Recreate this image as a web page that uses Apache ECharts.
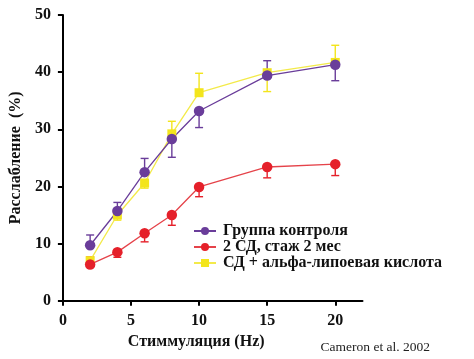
<!DOCTYPE html>
<html><head><meta charset="utf-8">
<script src="https://cdn.jsdelivr.net/npm/echarts@6/dist/echarts.min.js"></script>
<style>html,body{margin:0;padding:0;background:#fff}#c{width:474px;height:359px}</style>
</head><body><div id="c"></div>
<script>
const freq = [2, 4, 6, 8, 10, 15, 20];
const seriesNames = ['Группа контроля', '2 СД, стаж 2 мес', 'СД + альфа-липоевая кислота'];
const control = [9.7, 15.7, 22.5, 28.3, 33.2, 39.4, 41.3];
const controlErrUp = [1.8, 1.5, 2.4, 0, 0, 2.6, 0];
const controlErrDown = [0, 0, 0, 3.2, 2.9, 0, 2.8];
const diabetes = [6.35, 8.5, 11.8, 15.0, 19.9, 23.4, 23.9];
const diabetesErrUp = [1.3, 0, 0, 0, 0, 0, 0];
const diabetesErrDown = [0, 0.9, 1.5, 1.8, 1.7, 1.9, 2.0];
const lipoic = [7.0, 15.0, 20.6, 29.2, 36.4, 39.9, 41.7];
const lipoicErrUp = [0, 0, 0, 2.2, 3.4, 0, 3.0];
const lipoicErrDown = [0.6, 0.9, 0.9, 0, 0, 3.3, 0];
const xTicks = [0, 5, 10, 15, 20];
const yTicks = [0, 10, 20, 30, 40, 50];
const colors = ['#6a3d9a', '#e5202a', '#f3e51c'];
const lineColors = ['#6a3d9a', '#e5434a', '#f3ea4a'];

const serif = 'Liberation Serif';
const chart = echarts.init(document.getElementById('c'));

function errData(vals, up, down) {
  return freq.map((x, i) => [x, vals[i], vals[i] - down[i], vals[i] + up[i]]);
}
function errSeries(vals, up, down, color) {
  return {
    type: 'custom', silent: true, z: 1,
    data: errData(vals, up, down),
    renderItem: function (params, api) {
      const x = api.value(0), y = api.value(1), lo = api.value(2), hi = api.value(3);
      const c = api.coord([x, y]);
      const children = [];
      const hw = 4;
      [lo, hi].forEach(v => {
        if (v === y) return;
        const p = api.coord([x, v]);
        children.push({ type: 'line', shape: { x1: c[0], y1: c[1], x2: p[0], y2: p[1] }, style: { stroke: color, lineWidth: 1.4 } });
        children.push({ type: 'line', shape: { x1: p[0] - hw, y1: p[1], x2: p[0] + hw, y2: p[1] }, style: { stroke: color, lineWidth: 1.4 } });
      });
      return { type: 'group', children: children };
    }
  };
}
function lineSeries(name, vals, i, symbol, size) {
  return {
    name: name, type: 'line', z: 3,
    data: freq.map((x, k) => [x, vals[k]]),
    symbol: symbol, symbolSize: size, showSymbol: true,
    lineStyle: { color: lineColors[i], width: 1.3 },
    itemStyle: { color: colors[i], borderWidth: 0 },
    emphasis: { disabled: true }
  };
}

chart.setOption({
  animation: false,
  backgroundColor: '#fff',
  grid: { left: 60, top: 15, right: 111.5, bottom: 58.3, containLabel: false },
  legend: {
    orient: 'vertical', left: 188, top: 218,
    itemWidth: 22, itemHeight: 10, itemGap: 0,
    data: seriesNames,
    textStyle: { fontFamily: serif, fontWeight: 'bold', fontSize: 16, color: '#111', lineHeight: 16, padding: [0, 0, 0, 2] }
  },
  xAxis: {
    type: 'value', min: 0, max: 22, interval: 5,
    name: 'Стиммуляция (Hz)', nameLocation: 'middle', nameGap: 28,
    nameTextStyle: { fontFamily: serif, fontWeight: 'bold', fontSize: 16, color: '#111', padding: [0, 33, 0, 0] },
    axisLine: { lineStyle: { color: '#000', width: 2 } },
    axisTick: { show: true, length: 5, lineStyle: { color: '#000', width: 2 } },
    axisLabel: {
      margin: 12, fontFamily: serif, fontWeight: 'bold', fontSize: 16, color: '#111',
      showMaxLabel: false,
      formatter: v => (xTicks.indexOf(v) >= 0 ? String(v) : '')
    },
    splitLine: { show: false }
  },
  yAxis: {
    type: 'value', min: 0, max: 50, interval: 10,
    name: 'Расслабление  (%)', nameLocation: 'middle', nameGap: 35, nameRotate: 90,
    nameTextStyle: { fontFamily: serif, fontWeight: 'bold', fontSize: 16, color: '#111' },
    axisLine: { show: true, lineStyle: { color: '#000', width: 2 } },
    axisTick: { show: true, length: 5, lineStyle: { color: '#000', width: 2 } },
    axisLabel: {
      margin: 12, fontFamily: serif, fontWeight: 'bold', fontSize: 16, color: '#111',
      formatter: v => (yTicks.indexOf(v) >= 0 ? String(v) : '')
    },
    splitLine: { show: false }
  },
  graphic: [{
    type: 'text', right: 44, top: 340,
    style: { text: 'Cameron et al. 2002', font: '13.5px "Liberation Serif"', fill: '#222' }
  }],
  series: [
    errSeries(control, controlErrUp, controlErrDown, colors[0]),
    errSeries(diabetes, diabetesErrUp, diabetesErrDown, colors[1]),
    errSeries(lipoic, lipoicErrUp, lipoicErrDown, colors[2]),
    lineSeries(seriesNames[2], lipoic, 2, 'rect', 9),
    lineSeries(seriesNames[0], control, 0, 'circle', 10.5),
    lineSeries(seriesNames[1], diabetes, 1, 'circle', 10.5)
  ]
});
</script></body></html>
